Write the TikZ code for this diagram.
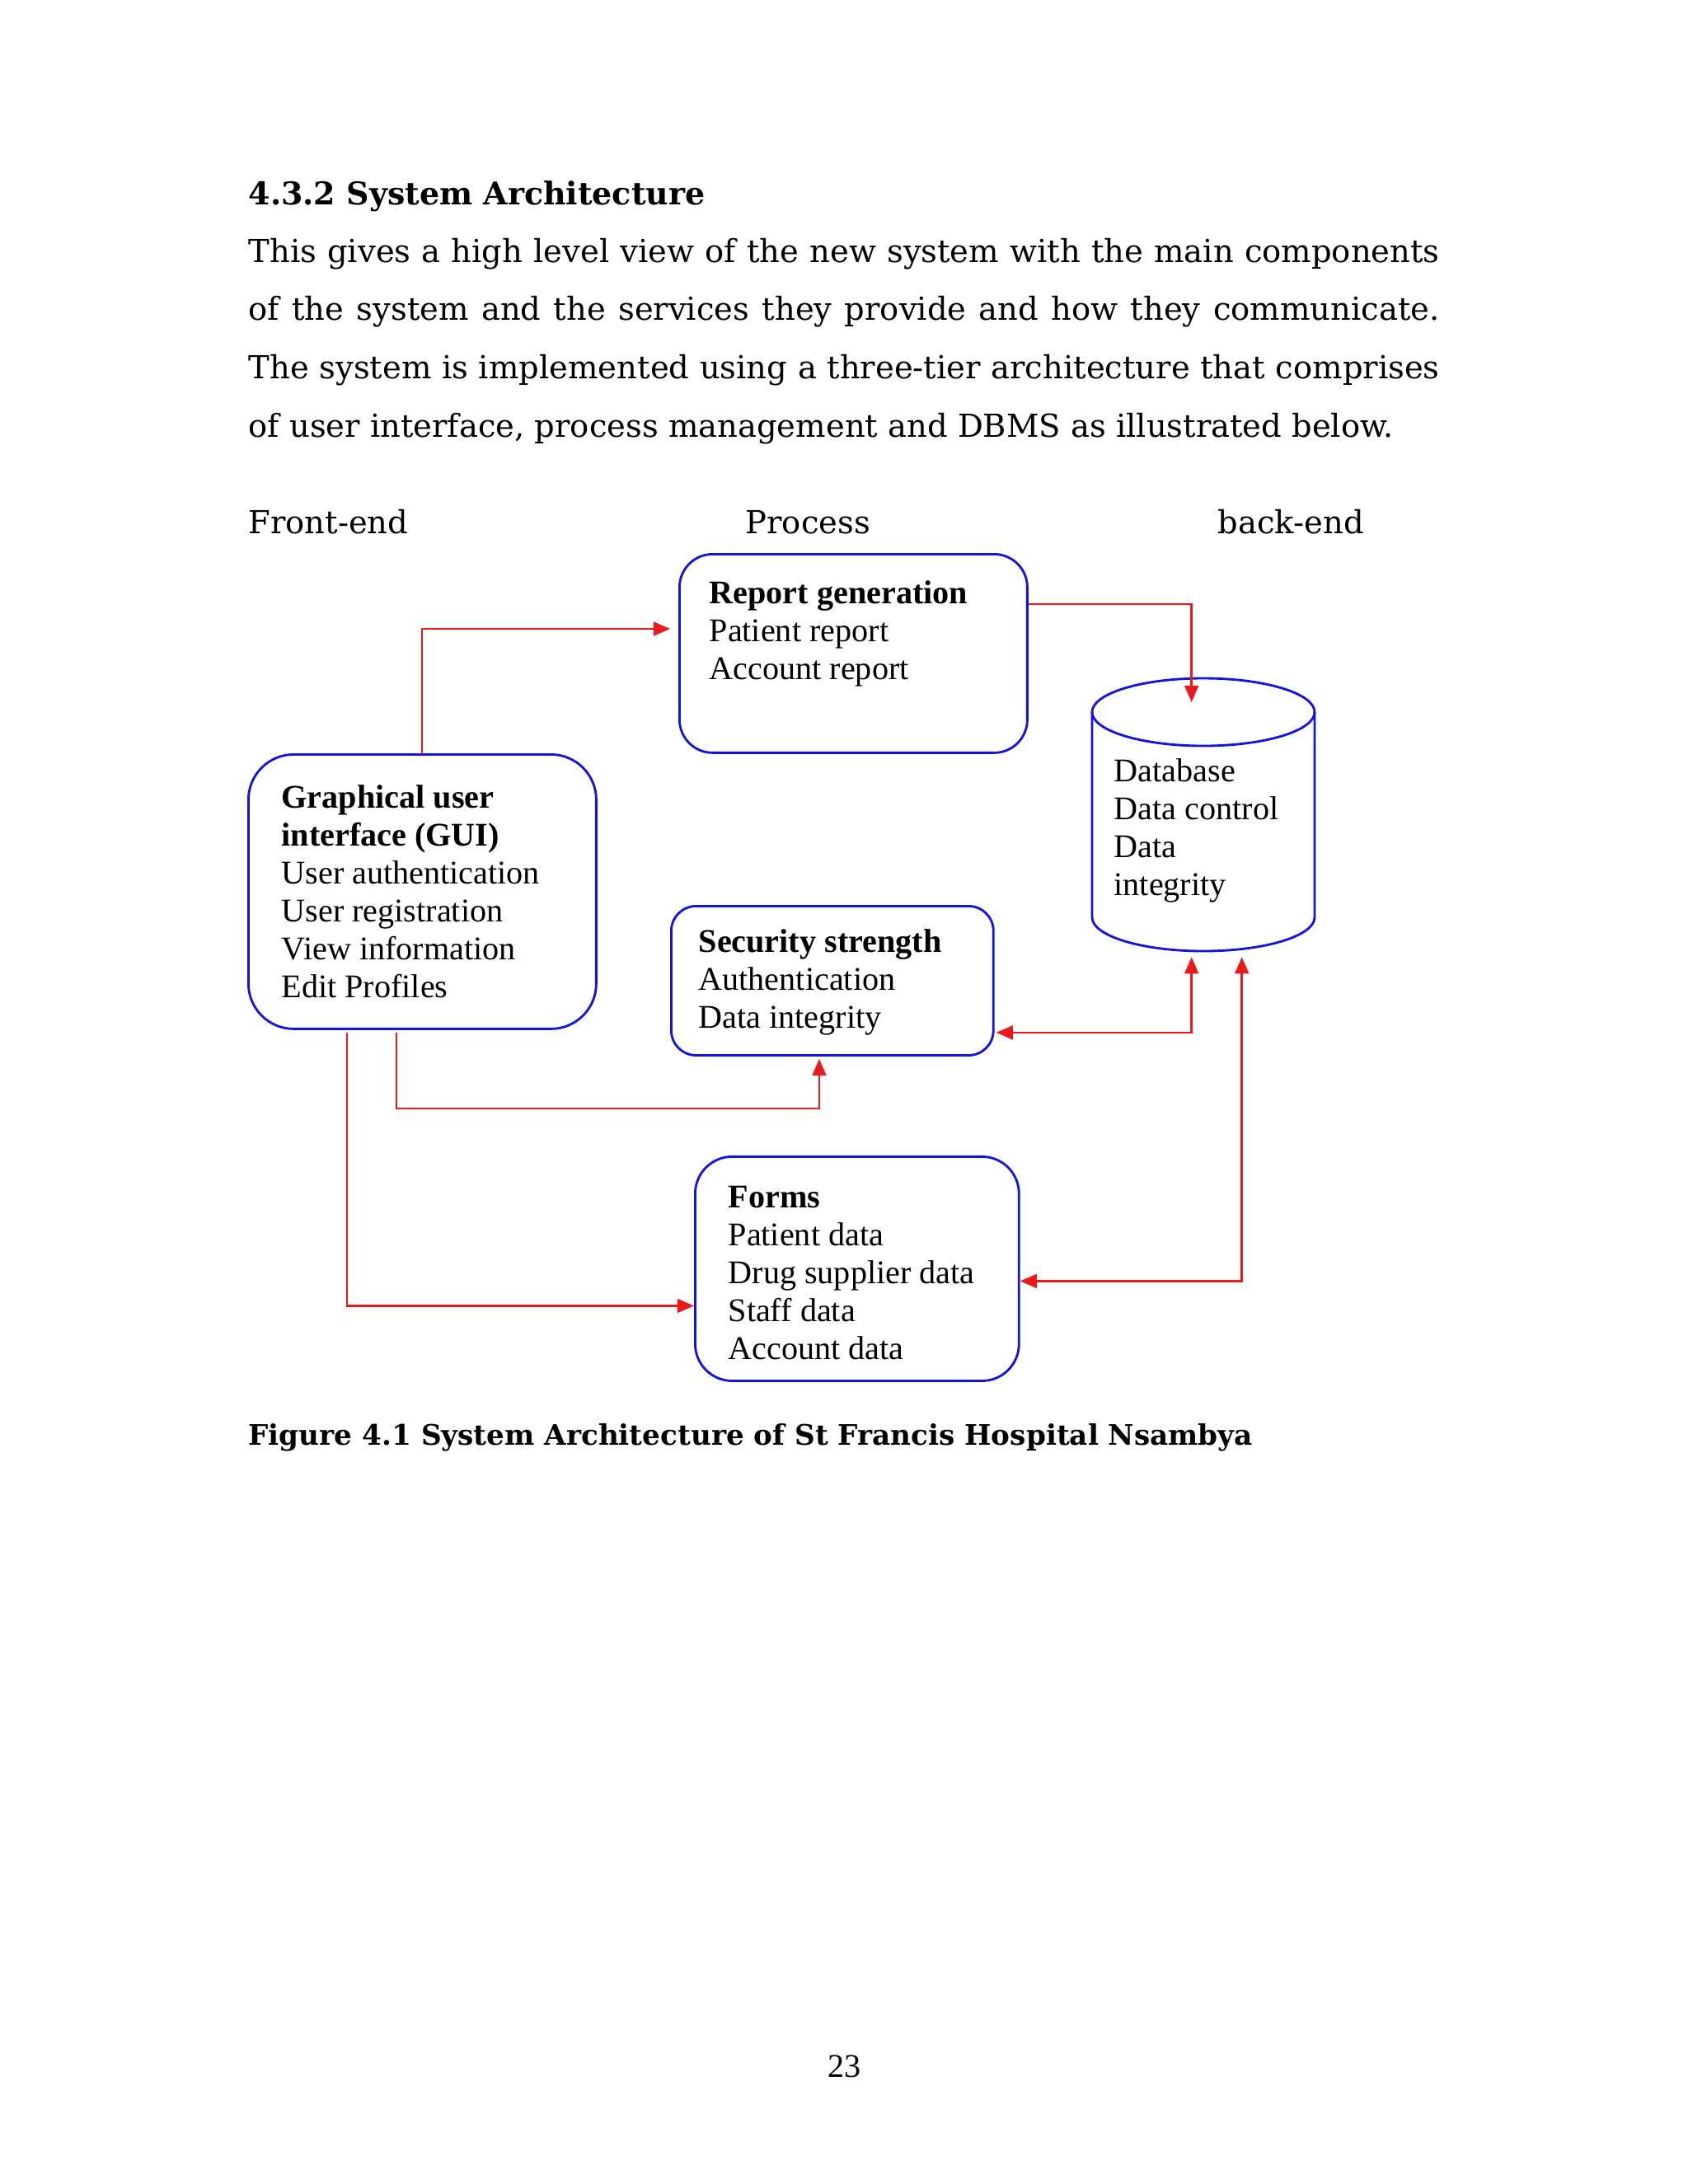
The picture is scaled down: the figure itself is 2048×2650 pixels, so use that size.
\documentclass[tikz,border=0pt]{standalone}
\usepackage{fontspec}
\setmainfont{DejaVu Serif}
\newfontfamily\tnr{Liberation Serif}
\usetikzlibrary{arrows.meta,calc}
\definecolor{boxblue}{RGB}{20,20,225}
\definecolor{linered}{RGB}{235,25,25}
\newcommand\boxlines[1]{\vtop{\baselineskip=13.75pt\lineskiplimit=-10pt\halign{##\hfil\cr#1\crcr}}}
\begin{document}
\begin{tikzpicture}[x=0.29883pt,y=-0.29883pt,
  rbox/.style={draw=boxblue, line width=0.85pt, inner sep=0pt, anchor=north west},
  cyl/.style={draw=boxblue, line width=0.85pt},
  dtext/.style={anchor=base west, inner sep=0pt, font=\tnr\fontsize{12}{13.75}\selectfont},
  ptext/.style={anchor=base west, inner sep=0pt, font=\fontsize{11.5}{21.2}\selectfont},
  arr/.style={draw=linered, line width=0.75pt, -{Triangle[length=6pt,width=5pt]}},
  dblarr/.style={draw=linered, line width=0.75pt, {Triangle[length=6pt,width=5pt]}-{Triangle[length=6pt,width=5pt]}}]
\fill[white] (0,0) rectangle (2048,2650);
\useasboundingbox (0,0) rectangle (2048,2650);

% page text
\node[ptext, font=\bfseries\fontsize{11.35}{13}\selectfont] (head) at (301,248) {4.3.2 System Architecture};
\node[ptext] (para) at (301,318) {\vtop{\hsize=431.8pt\fontsize{11.5}{21.2}\selectfont\noindent
This gives a high level view of the new system with the main components\linebreak
of the system and the services they provide and how they communicate.\linebreak
The system is implemented using a three-tier architecture that comprises\linebreak
of user interface, process management and DBMS as illustrated below.\par}};
\node[ptext] (front) at (301,647) {Front-end};
\node[ptext] (proc) at (904,647) {Process};
\node[ptext] (back) at (1477,647) {back-end};

% boxes
\node[rbox, rounded corners=12pt, minimum width=126.1pt, minimum height=72.0pt] (report) at (823,671) {};
\node[rbox, rounded corners=16.4pt, minimum width=126.1pt, minimum height=99.5pt] (gui) at (300,914) {};
\node[rbox, rounded corners=9pt, minimum width=116.8pt, minimum height=54.1pt] (sec) at (813,1098) {};
\node[rbox, rounded corners=13.4pt, minimum width=117.4pt, minimum height=81.3pt] (forms) at (842,1402) {};
\node[inner sep=0pt, anchor=north west, minimum width=80.7pt, minimum height=98.9pt] (db) at (1325,823) {};
\draw[cyl] (1325,864) -- (1325,1113) arc[start angle=180, end angle=0, x radius=135, y radius=41] -- (1595,864);
\draw[cyl] (1460,864) ellipse [x radius=135, y radius=41];

% box texts
\node[dtext] (reportT) at (860,732) {\boxlines{\textbf{Report generation}\cr Patient report\cr Account report}};
\node[dtext] (guiT) at (341,980) {\boxlines{\textbf{Graphical user}\cr \textbf{interface (GUI)}\cr User authentication\cr User registration\cr View information\cr Edit Profiles}};
\node[dtext] (dbT) at (1351,948) {\boxlines{Database\cr Data control\cr Data\cr integrity}};
\node[dtext] (secT) at (847,1155) {\boxlines{\textbf{Security strength}\cr Authentication\cr Data integrity}};
\node[dtext] (formsT) at (883,1465) {\boxlines{\textbf{Forms}\cr Patient data\cr Drug supplier data\cr Staff data\cr Account data}};

% connectors
\draw[arr] ($(gui.north west)+(212,0)$) |- ($(report.north west)+(-10,92)$);
\draw[arr] ($(report.north east)+(0,62)$) -| ($(db.north)+(-15,29)$);
\draw[dblarr] ($(db.south)+(-15,6)$) |- ($(sec.south east)+(2,-29)$);
\draw[dblarr] ($(db.south)+(46,6)$) |- ($(forms.east)+(0,15)$);
\draw[arr] ($(gui.south west)+(181,3)$) -- ++(0,92) -| ($(sec.south west)+(181,3)$);
\draw[arr] ($(gui.south west)+(121,3)$) |- ($(forms.west)+(0,45)$);

% caption and page number
\node[ptext, font=\bfseries\fontsize{10.23}{12}\selectfont] (cap) at (301,1753) {Figure 4.1 System Architecture of St Francis Hospital Nsambya};
\node[dtext] (page) at (1004,2520) {23};
\end{tikzpicture}
\end{document}
